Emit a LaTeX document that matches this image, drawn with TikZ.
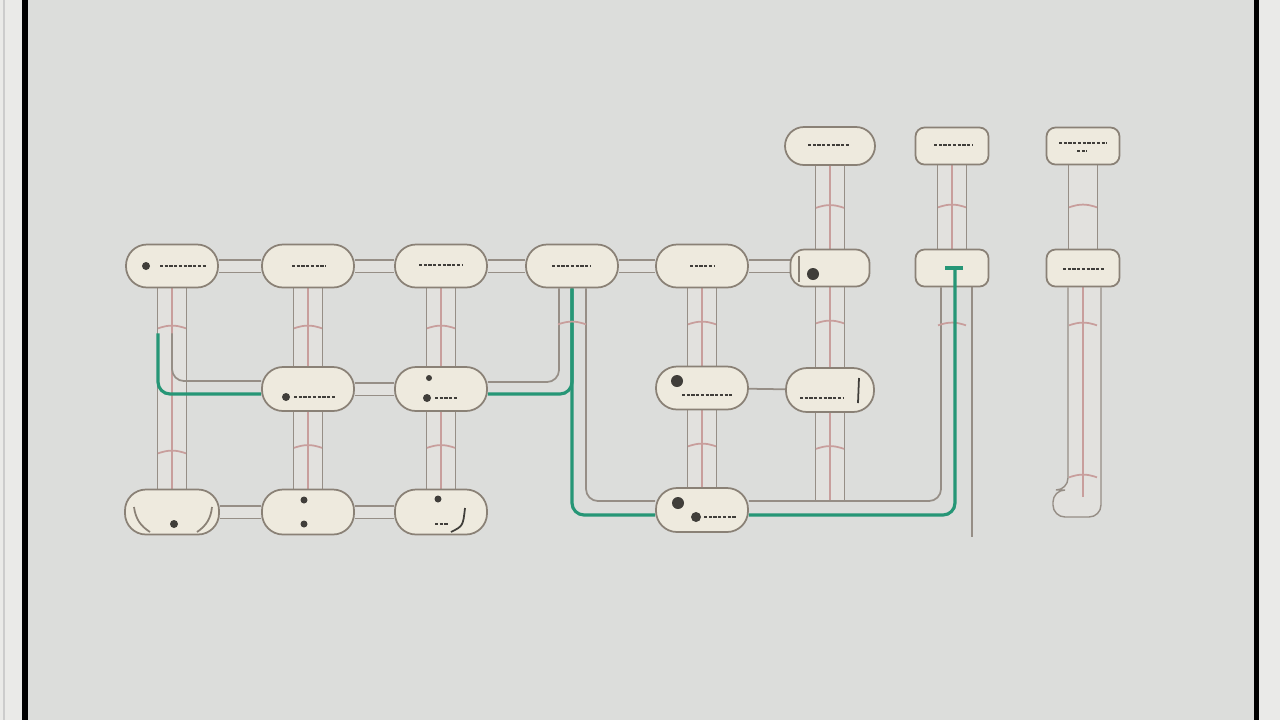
\documentclass[tikz,border=0pt]{standalone}
\usepackage{tikz}
\usetikzlibrary{positioning, calc, backgrounds}
\definecolor{paper}{RGB}{220,221,219}
\definecolor{margin}{RGB}{234,234,232}
\definecolor{podfill}{RGB}{238,234,222}
\definecolor{podline}{RGB}{138,129,118}
\definecolor{pipeline}{RGB}{150,142,134}
\definecolor{pipefill}{RGB}{226,225,222}
\definecolor{coreline}{RGB}{200,158,156}
\definecolor{flow}{RGB}{38,150,118}
\definecolor{ink}{RGB}{64,62,58}

\begin{document}
\begin{tikzpicture}[x=0.1mm, y=-0.1mm,
    pod/.style={draw=podline, fill=podfill, line width=0.5pt, minimum width=9.2mm, minimum height=4.3mm, rounded corners=2.1mm, inner sep=0pt},
    box/.style={pod, minimum width=7.3mm, minimum height=3.7mm, rounded corners=0.9mm},
    tube/.style={draw=pipeline, line width=0.4pt, double=pipefill, double distance=1.1mm},
    riser/.style={draw=pipeline, line width=0.4pt, double=pipefill, double distance=2.8mm},
    core/.style={coreline, line width=0.4pt},
    tick/.style={coreline, line width=0.5pt},
    flowline/.style={flow, line width=0.9pt, rounded corners=1.2mm},
    backline/.style={pipeline, line width=0.5pt, rounded corners=1.2mm},
    scrib/.style={ink, line width=0.7pt, dash pattern=on 0.9pt off 0.45pt},
    blob/.style={fill=ink}]
    \useasboundingbox (0,0) rectangle (1280,720);
    % Top caps
    \node[pod, minimum width=9mm, minimum height=3.8mm, rounded corners=1.9mm] (cap1) at (830,146) {};
    \node[box] (cap2) at (952,146) {};
    \node[box] (cap3) at (1083,146) {};
    % Main row
    \node[pod] (main1) at (172,266) {};
    \node[pod] (main2) at (308,266) {};
    \node[pod] (main3) at (441,266) {};
    \node[pod] (main4) at (572,266) {};
    \node[pod] (main5) at (702,266) {};
    \node[box, minimum width=7.9mm, rounded corners=1.4mm] (main6) at (830,268) {};
    \node[box] (main7) at (952,268) {};
    \node[box] (main8) at (1083,268) {};
    % Middle row
    \node[pod, minimum height=4.4mm] (mid1) at (308,389) {};
    \node[pod, minimum height=4.4mm] (mid2) at (441,389) {};
    \node[pod] (mid3) at (702,388) {};
    \node[pod, minimum width=8.8mm, minimum height=4.4mm] (mid4) at (830,390) {};
    % Bottom row
    \node[pod, minimum width=9.4mm, minimum height=4.5mm] (low1) at (172,512) {};
    \node[pod, minimum height=4.5mm] (low2) at (308,512) {};
    \node[pod, minimum height=4.5mm] (low3) at (441,512) {};
    \node[pod, minimum height=4.4mm] (low4) at (702,510) {};
    \coordinate (drain) at (830,501);
    \coordinate (plug) at (1083,517);

    \begin{scope}[on background layer]
        \fill[margin] (0,0) rectangle (1280,720);
        \fill[paper] (25,0) rectangle (1256,720);
        \draw[gray!40, line width=0.3pt] (4,0) -- (4,720);
        % Risers
        \draw[riser] (main1) -- (low1);
        \draw[riser] (main2) -- (mid1);
        \draw[riser] (mid1) -- (low2);
        \draw[riser] (main3) -- (mid2);
        \draw[riser] (mid2) -- (low3);
        \draw[riser] (main5) -- (mid3);
        \draw[riser] (mid3) -- (low4);
        \draw[riser] (cap1) -- (main6);
        \draw[riser] (main6) -- (mid4);
        \draw[riser] (mid4) -- (drain);
        \draw[riser] (cap2) -- (main7);
        \draw[riser] (cap3) -- (main8);
        % End cap
        \draw[pipeline, line width=0.4pt, fill=pipefill, rounded corners=1.2mm]
            ($(main8.south)+(-15,0)$) -- ($(plug)+(-15,-27)$) -- ($(plug)+(-30,-27)$)
            -- ($(plug)+(-30,0)$) -- ($(plug)+(18,0)$) -- ($(main8.south)+(18,0)$);
        % Core lines
        \foreach \a/\b in {main1/low1, main2/mid1, mid1/low2, main3/mid2, mid2/low3,
            main5/mid3, mid3/low4, cap1/main6, main6/mid4, mid4/drain, cap2/main7}
            \draw[core] (\a) -- (\b);
        \draw[core] (main8) -- ($(plug)+(0,-20)$);
        \draw[core] (main4) -- ++(0,60);
        % Tubes
        \draw[tube] (main1) -- (main2);
        \draw[tube] (main2) -- (main3);
        \draw[tube] (main3) -- (main4);
        \draw[tube] (main4) -- (main5);
        \draw[tube] (main5) -- (main5 -| main6);
        \draw[tube] (mid1) -- (mid2);
        \draw[tube] (low1) -- (low2);
        \draw[tube] (low2) -- (low3);
        \draw[backline] (mid3) -- (mid4);
        % Upper flow
        \draw[flowline] ($(main1.south)+(-14,45)$) |- ($(mid1.west)+(0,5)$);
        \draw[backline] ($(main1.south)+(0,45)$) |- ($(mid1.west)+(0,-8)$);
        \draw[backline] ($(mid2.east)+(0,-7)$) -| ($(main4.south)+(-13,0)$);
        \draw[flowline] ($(mid2.east)+(0,5)$) -| (main4.south);
        % Lower flow
        \draw[flowline] (main4.south) |- ($(low4.west)+(0,5)$);
        \draw[backline] ($(main4.south)+(14,0)$) |- ($(low4.west)+(0,-9)$);
        \draw[backline] ($(low4.east)+(0,-9)$) -| ($(main7.south)+(-11,0)$);
        \draw[backline] ($(main7.south)+(20,0)$) -- ++(0,250);
        % Ticks
        \foreach \n/\d in {main1/40, main2/40, main3/40, main4/36, main5/36, main6/36,
            main7/38, main8/38, cap1/42, cap2/42, cap3/42, mid1/36, mid2/36, mid3/36, mid4/36}
            \draw[tick] ($(\n.south)+(-14,\d)$) to[bend left=20] ++(28,0);
        \draw[tick] ($(main1.south)+(-14,165)$) to[bend left=20] ++(28,0);
        \draw[tick] ($(main8.south)+(-14,190)$) to[bend left=20] ++(28,0);
    \end{scope}

    % Flow into main7
    \draw[flowline] ($(low4.east)+(0,5)$) -| ($(main7.center)+(3,0)$);
    \draw[flow, line width=0.9pt] ($(main7.center)+(-7,0)$) -- ++(18,0);

    % Marks in the nodes
    \fill[blob] ($(main1)+(-26,0)$) circle (4);
    \draw[scrib] ($(main1)+(-12,0)$) -- ++(46,0);
    \draw[scrib] ($(main2)+(-16,0)$) -- ++(34,0);
    \draw[scrib] ($(main3)+(-22,-1)$) -- ++(44,0);
    \draw[scrib] ($(main4)+(-20,0)$) -- ++(38,0);
    \draw[scrib] ($(main5)+(-12,0)$) -- ++(24,0);
    \fill[blob] ($(main6)+(-17,6)$) circle (6);
    \draw[podline, line width=0.5pt] ($(main6)+(-31,-12)$) -- ++(0,26);
    \draw[scrib] ($(main8)+(-20,1)$) -- ++(42,0);
    \draw[scrib] ($(cap1)+(-22,-1)$) -- ++(42,0);
    \draw[scrib] ($(cap2)+(-18,-1)$) -- ++(38,0);
    \draw[scrib] ($(cap3)+(-24,-3)$) -- ++(48,0);
    \draw[scrib] ($(cap3)+(-6,5)$) -- ++(10,0);
    \fill[blob] ($(mid1)+(-22,8)$) circle (4);
    \draw[scrib] ($(mid1)+(-14,8)$) -- ++(42,0);
    \fill[blob] ($(mid2)+(-12,-11)$) circle (3);
    \fill[blob] ($(mid2)+(-14,9)$) circle (4);
    \draw[scrib] ($(mid2)+(-6,9)$) -- ++(22,0);
    \fill[blob] ($(mid3)+(-25,-7)$) circle (6);
    \draw[scrib] ($(mid3)+(-20,7)$) -- ++(50,0);
    \draw[scrib] ($(mid4)+(-30,8)$) -- ++(44,0);
    \draw[ink, line width=0.5pt] ($(mid4)+(29,-12)$) -- ++(-1,25);
    \draw[podline, line width=0.5pt] ($(low1)+(-38,-5)$) to[bend right=25] ($(low1)+(-22,20)$);
    \draw[podline, line width=0.5pt] ($(low1)+(40,-5)$) to[bend left=25] ($(low1)+(25,20)$);
    \fill[blob] ($(low1)+(2,12)$) circle (4);
    \fill[blob] ($(low2)+(-4,-12)$) circle (3.5);
    \fill[blob] ($(low2)+(-4,12)$) circle (3.5);
    \fill[blob] ($(low3)+(-3,-13)$) circle (3.5);
    \draw[scrib] ($(low3)+(-6,12)$) -- ++(14,0);
    \draw[ink, line width=0.5pt] ($(low3)+(10,20)$) .. controls ($(low3)+(22,14)$) .. ($(low3)+(24,-4)$);
    \fill[blob] ($(low4)+(-24,-7)$) circle (6);
    \fill[blob] ($(low4)+(-6,7)$) circle (5);
    \draw[scrib] ($(low4)+(2,7)$) -- ++(32,0);

    % Frame
    \draw[black, line width=0.6mm] (25,0) -- (25,720);
    \draw[black, line width=0.5mm] (1256,0) -- (1256,720);
\end{tikzpicture}
\end{document}
